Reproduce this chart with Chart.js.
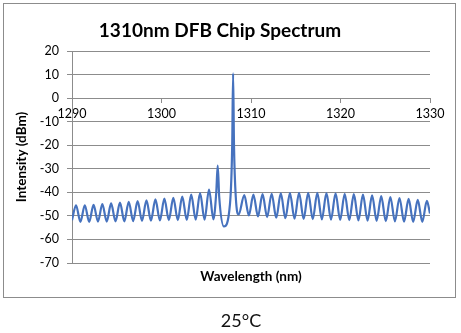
<!DOCTYPE html>
<html>
<head>
<meta charset="utf-8">
<script src="https://cdn.jsdelivr.net/npm/chart.js@4.4.1/dist/chart.umd.min.js"></script>
<style>
  html, body { margin: 0; padding: 0; background: #ffffff; }
  body { width: 461px; height: 333px; position: relative; overflow: hidden; }
  #c { position: absolute; left: 0; top: 0; }
  #frame { position: absolute; left: 3px; top: 3px; width: 453px; height: 295px; box-sizing: border-box; border: 1px solid #8c8c8c; pointer-events: none; }
  #caption { position: absolute; left: 0; width: 482px; top: 309px; text-align: center; font-family: Lato, "Open Sans", sans-serif; font-size: 18px; color: #111; }
</style>
</head>
<body>
<canvas id="c" width="461" height="333"></canvas>
<div id="frame"></div>
<div id="caption">25°C</div>
<script>
// ---- data ----
const chartTitle = "1310nm DFB Chip Spectrum";
const xTitle = "Wavelength (nm)";
const yTitle = "Intensity (dBm)";
const xTickValues = [1290, 1300, 1310, 1320, 1330];
const yTickValues = [-70, -60, -50, -40, -30, -20, -10, 0, 10, 20];

const wavelength = [
  1290.00,
  1290.45, 1290.94, 1291.43, 1291.92, 1292.41, 1292.90, 1293.39, 1293.88,
  1294.37, 1294.86, 1295.36, 1295.85, 1296.34, 1296.83, 1297.33, 1297.82,
  1298.32, 1298.82, 1299.32, 1299.82, 1300.32, 1300.82, 1301.32, 1301.82,
  1302.32, 1302.82, 1303.32, 1303.82, 1304.31, 1304.81, 1305.31, 1305.80,
  1306.12, 1306.28, 1306.45, 1306.98,
  1307.65, 1307.90, 1308.00, 1308.10, 1308.30, 1308.62,
  1309.25, 1309.76, 1310.27, 1310.78, 1311.29, 1311.80, 1312.31, 1312.82,
  1313.33, 1313.84, 1314.35, 1314.86, 1315.37, 1315.88, 1316.39, 1316.90,
  1317.41, 1317.92, 1318.43, 1318.94, 1319.45, 1319.96, 1320.47, 1320.98,
  1321.49, 1322.00, 1322.51, 1323.02, 1323.53, 1324.04, 1324.55, 1325.06,
  1325.57, 1326.08, 1326.59, 1327.10, 1327.61, 1328.12, 1328.63, 1329.14,
  1329.65, 1330.00
];
const intensity = [
  -51.8,
  -45.5, -52.5, -45.5, -52.5, -45.3, -52.4, -45.0, -52.4,
  -44.7, -52.3, -44.4, -52.3, -44.0, -52.2, -43.7, -52.1,
  -43.4, -52.0, -43.0, -51.9, -42.7, -51.8, -42.3, -51.8,
  -41.8, -51.7, -41.0, -51.6, -40.3, -51.6, -38.8, -51.5,
  -40.0, -28.7, -42.0, -54.5,
  -45.0, -20.0, 10.5, -20.0, -42.0, -49.4,
  -41.2, -49.8, -41.0, -50.2, -40.8, -50.5, -40.6, -50.8,
  -40.4, -51.0, -40.3, -51.2, -40.2, -51.3, -40.2, -51.4,
  -40.2, -51.5, -40.3, -51.6, -40.4, -51.7, -40.6, -51.8,
  -40.8, -51.9, -41.0, -52.0, -41.3, -52.1, -41.6, -52.2,
  -42.0, -52.3, -42.4, -52.4, -42.8, -52.5, -43.2, -52.5,
  -43.6, -49.0
];

const gridColor = '#8c8c8c';
const fontFamily = 'Lato, "Open Sans", sans-serif';

new Chart(document.getElementById('c'), {
  type: 'line',
  data: {
    datasets: [{
      data: wavelength.map((w, i) => ({ x: w, y: intensity[i] })),
      xAxisID: 'x',
      yAxisID: 'y',
      borderColor: '#4672be',
      borderWidth: 2.2,
      pointRadius: 0,
      fill: false,
      cubicInterpolationMode: 'monotone'
    }]
  },
  options: {
    responsive: false,
    animation: false,
    devicePixelRatio: 1,
    layout: { padding: { left: 10, right: 31, top: 19.6, bottom: 48.2 } },
    plugins: {
      legend: { display: false },
      tooltip: { enabled: false },
      title: {
        display: true,
        text: chartTitle,
        color: '#000',
        font: { family: fontFamily, size: 19, weight: 'bold' },
        padding: { top: 0, bottom: 8.6 }
      }
    },
    scales: {
      x: {
        type: 'linear',
        position: { y: 0 },
        min: 1290, max: 1330,
        afterBuildTicks: s => { s.ticks = xTickValues.map(v => ({ value: v })); },
        grid: { display: true, drawOnChartArea: false, drawTicks: true, tickLength: 4, color: gridColor },
        border: { display: true, color: gridColor, width: 1 },
        ticks: {
          color: '#000', maxRotation: 0, autoSkip: false, padding: 4,
          font: { family: fontFamily, size: 12.5 },
          callback: v => String(v)
        }
      },
      x2: {
        type: 'linear',
        position: 'bottom',
        min: 1290, max: 1330,
        grid: { display: false, drawTicks: false },
        border: { display: false },
        ticks: { display: false },
        title: {
          display: true, text: xTitle, color: '#000',
          font: { family: fontFamily, size: 13.5, weight: 'bold' },
          padding: { top: 5.6, bottom: 0 }
        }
      },
      y: {
        type: 'linear',
        position: 'left',
        min: -70, max: 20,
        afterFit: s => { s.width = 62; },
        afterBuildTicks: s => { s.ticks = yTickValues.map(v => ({ value: v })); },
        grid: { color: gridColor, lineWidth: 1, tickLength: 5, drawTicks: true },
        border: { display: true, color: gridColor, width: 1 },
        ticks: { color: '#000', padding: 8, font: { family: fontFamily, size: 12.5 } },
        title: {
          display: true, text: yTitle, color: '#000',
          font: { family: fontFamily, size: 13.5, weight: 'bold' },
          padding: { top: 4, bottom: 4 }
        }
      }
    }
  }
});
</script>
</body>
</html>
